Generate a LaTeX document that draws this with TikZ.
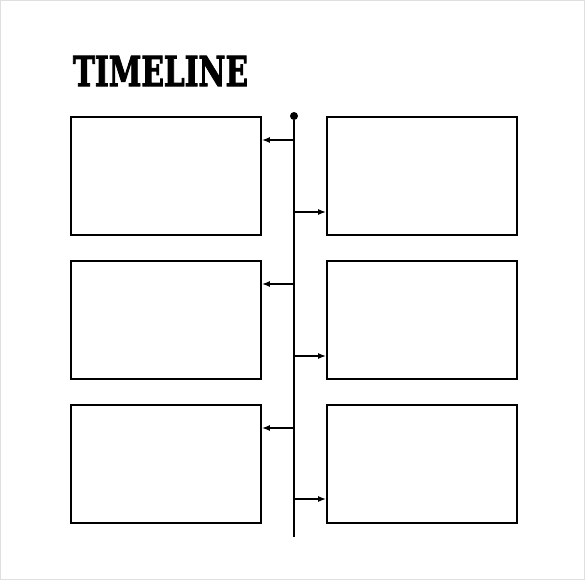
\documentclass[tikz,border=0pt]{standalone}
\usepackage{fontspec}
\newfontfamily\titlefont[BoldFeatures={FakeBold=2.5}]{DejaVu Serif}
\usetikzlibrary{arrows.meta}
\begin{document}
\begin{tikzpicture}[x=1pt, y=-1pt,
  evbox/.style={draw, line width=1.8pt, minimum width=190pt, minimum height=118pt, inner sep=0pt},
  tip/.style={-{Latex[length=8pt, width=6pt]}, line width=1.5pt}]
\useasboundingbox (0,0) rectangle (585,580);
\draw[gray!25, line width=1pt] (0.5,0.5) rectangle (584.5,579);
\node[inner sep=0pt] (title) at (160.5,71){\resizebox{175pt}{30pt}{\titlefont\bfseries TIMELINE}};
\node[circle, fill, inner sep=0pt, minimum size=8pt] (top) at (294,116){};
\coordinate (bot) at (294,537);
\draw[line width=2.6pt](top) -- (bot);
\node[evbox] (lb1) at (166,176){};
\node[evbox] (lb2) at (166,320){};
\node[evbox] (lb3) at (166,464){};
\node[evbox] (rb1) at (422,176){};
\node[evbox] (rb2) at (422,320){};
\node[evbox] (rb3) at (422,464){};
\coordinate (l1) at (294,140);
\coordinate (l2) at (294,284);
\coordinate (l3) at (294,428);
\coordinate (r1) at (294,212);
\coordinate (r2) at (294,356);
\coordinate (r3) at (294,499);
\draw[tip](l1) -- (l1 -| lb1.east);
\draw[tip](l2) -- (l2 -| lb2.east);
\draw[tip](l3) -- (l3 -| lb3.east);
\draw[tip](r1) -- (r1 -| rb1.west);
\draw[tip](r2) -- (r2 -| rb2.west);
\draw[tip](r3) -- (r3 -| rb3.west);

\end{tikzpicture}
\end{document}
